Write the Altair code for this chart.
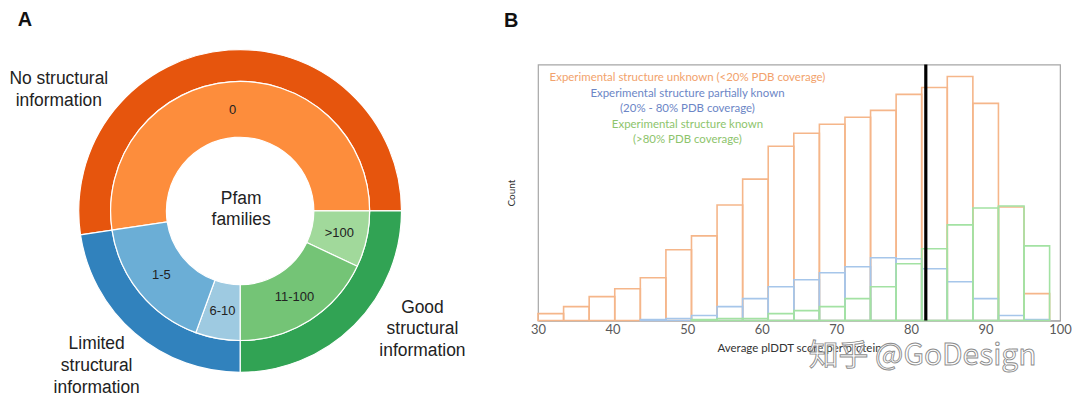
import math
import altair as alt
import pandas as pd

# ---------------- Panel A data ----------------
inner_labels = ["0", ">100", "11-100", "6-10", "1-5"]
inner_share = [52.36, 7.03, 17.97, 5.56, 17.08]
inner_colors = ["#fd8d3c", "#a1d99b", "#74c476", "#9ecae1", "#6baed6"]

outer_groups = ["No structural information", "Good structural information", "Limited structural information"]
outer_share = [52.36, 25.0, 22.64]
outer_colors = ["#e6550d", "#31a354", "#3182bd"]

# ---------------- Panel B data ----------------
bin_lo = [30.00, 33.43, 36.86, 40.29, 43.72, 47.15, 50.58, 54.01, 57.44, 60.87,
          64.30, 67.73, 71.16, 74.59, 78.02, 81.45, 84.88, 88.31, 91.74, 95.17]
bin_hi = [33.43, 36.86, 40.29, 43.72, 47.15, 50.58, 54.01, 57.44, 60.87, 64.30,
          67.73, 71.16, 74.59, 78.02, 81.45, 84.88, 88.31, 91.74, 95.17, 98.60]
unknown = [7, 14, 24, 32, 43, 71, 85, 116, 142, 175, 188, 197, 204, 211, 227, 234, 245, 218, 114, 27]
partial = [0, 0, 0, 0, 1, 2, 5, 14, 22, 34, 41, 48, 54, 63, 62, 52, 39, 22, 5, 1]
known = [0, 0, 0, 0, 0, 0, 1, 2, 2, 7, 10, 14, 22, 34, 57, 72, 96, 113, 115, 75]
threshold = [82]
x_ticks = [30, 40, 50, 60, 70, 80, 90, 100]

# ---------------- Panel A ----------------
FA = "Liberation Sans"
start = 261.5 * math.pi / 180
theta_scale = alt.Scale(domain=[0, 100], range=[start, start + 2 * math.pi])
CX, CY = 232, 147

inner_df = pd.DataFrame({"label": inner_labels, "share": inner_share, "k": list(range(len(inner_labels)))})
outer_df = pd.DataFrame({"group": outer_groups, "share": outer_share, "k": list(range(len(outer_groups)))})

base_in = alt.Chart(inner_df).encode(
    theta=alt.Theta("share:Q", stack=True, scale=theta_scale),
    order=alt.Order("k:Q"),
    x=alt.value(CX), y=alt.value(CY),
)
inner_arc = base_in.mark_arc(innerRadius=74, outerRadius=130, stroke="white", strokeWidth=1.2).encode(
    color=alt.Color("label:N", scale=alt.Scale(domain=inner_labels, range=inner_colors), legend=None)
)
inner_txt = base_in.mark_text(radius=102, font=FA, fontSize=13, color="#222222").encode(text="label:N")

outer_arc = alt.Chart(outer_df).mark_arc(innerRadius=130, outerRadius=162, stroke="white", strokeWidth=1.2).encode(
    theta=alt.Theta("share:Q", stack=True, scale=theta_scale),
    order=alt.Order("k:Q"),
    color=alt.Color("group:N", scale=alt.Scale(domain=outer_groups, range=outer_colors), legend=None),
    x=alt.value(CX), y=alt.value(CY),
)

one = pd.DataFrame({"d": [0]})


def note(text, x, y, size, color="#222222", font=FA, weight="normal", align="center", **kw):
    return alt.Chart(one).mark_text(
        text=text, font=font, fontSize=size, fontWeight=weight, color=color,
        align=align, baseline="middle", lineBreak="\n", **kw
    ).encode(x=alt.value(x), y=alt.value(y))


a_texts = [
    note("A", 16, -45, 20, weight="bold", color="#111111"),
    note("Pfam\nfamilies", CX + 1, 135, 17.5, lineHeight=21.5),
    note("No structural\ninformation", 50, 15, 17.5, lineHeight=21.5),
    note("Limited\nstructural\ninformation", 88, 281, 17.5, lineHeight=21.8),
    note("Good\nstructural\ninformation", 415, 244, 17.5, lineHeight=21.8),
]

panel_a = alt.layer(outer_arc, inner_arc, inner_txt, *a_texts).resolve_scale(
    color="independent"
).properties(
    width=480, height=257, view=alt.ViewBackground(stroke="transparent")
)

# ---------------- Panel B ----------------
FB = "Lato"
series_names = ["unknown", "partial", "known"]
series_vals = [unknown, partial, known]
series_colors = ["#f5b68a", "#a6c6ea", "#a3e2a3"]

xs = alt.Scale(domain=[30, 100], nice=False, zero=False)
ys = alt.Scale(domain=[0, 257], nice=False)

x_axis = alt.Axis(values=x_ticks, format="d", ticks=False, grid=False, labelFlush=False,
                  labelFont=FB, labelFontSize=13, labelColor="#595959", labelPadding=3,
                  domainColor="#a6a6a6", title="Average plDDT score per protein",
                  titleFont=FB, titleFontSize=11.5, titleFontWeight="normal", titleColor="#333333",
                  titlePadding=6)
y_axis = alt.Axis(labels=False, ticks=False, grid=False, domain=False, title="Count",
                  titleFont=FB, titleFontSize=10, titleFontWeight="normal", titleColor="#333333",
                  titlePadding=22)

b_layers = []
for name, vals, col in zip(series_names, series_vals, series_colors):
    df = pd.DataFrame({"lo": bin_lo, "hi": bin_hi, "count": vals})
    df = df[df["count"] > 0]
    b_layers.append(
        alt.Chart(df).mark_rect(fillOpacity=0, stroke=col, strokeWidth=1.6).encode(
            x=alt.X("lo:Q", scale=xs, axis=x_axis),
            x2="hi:Q",
            y=alt.Y("count:Q", scale=ys, axis=y_axis),
            y2=alt.datum(0),
        )
    )

thr = alt.Chart(pd.DataFrame({"v": threshold})).mark_rule(color="black", strokeWidth=3.2).encode(
    x=alt.X("v:Q", scale=xs)
)

legend_lines = [
    ("Experimental structure unknown (<20% PDB coverage)", "#f2a26c", 14),
    ("Experimental structure partially known", "#6c86c6", 29.5),
    ("(20% - 80% PDB coverage)", "#6c86c6", 45),
    ("Experimental structure known", "#8dc46c", 60.5),
    ("(>80% PDB coverage)", "#8dc46c", 76),
]
b_texts = [note(t, 150, y, 11.5, color=c, font=FB) for t, c, y in legend_lines]
b_texts.append(note("B", -27, -44, 20, weight="bold", color="#111111", font=FA))
b_texts.append(note("知乎 @GoDesign", 386, 293, 30, color="white", font="Noto Sans CJK SC",
                    stroke="#8c8c8c", strokeWidth=0.9))

panel_b = alt.layer(*b_layers, thr, *b_texts).properties(
    width=524, height=257, view=alt.ViewBackground(stroke="#a6a6a6", strokeWidth=1.2)
)

chart = alt.hconcat(panel_a, panel_b, spacing=15).properties(padding=0).configure(
    background="white"
)

chart.save("out.html", embed_options={"renderer": "svg", "actions": False})
